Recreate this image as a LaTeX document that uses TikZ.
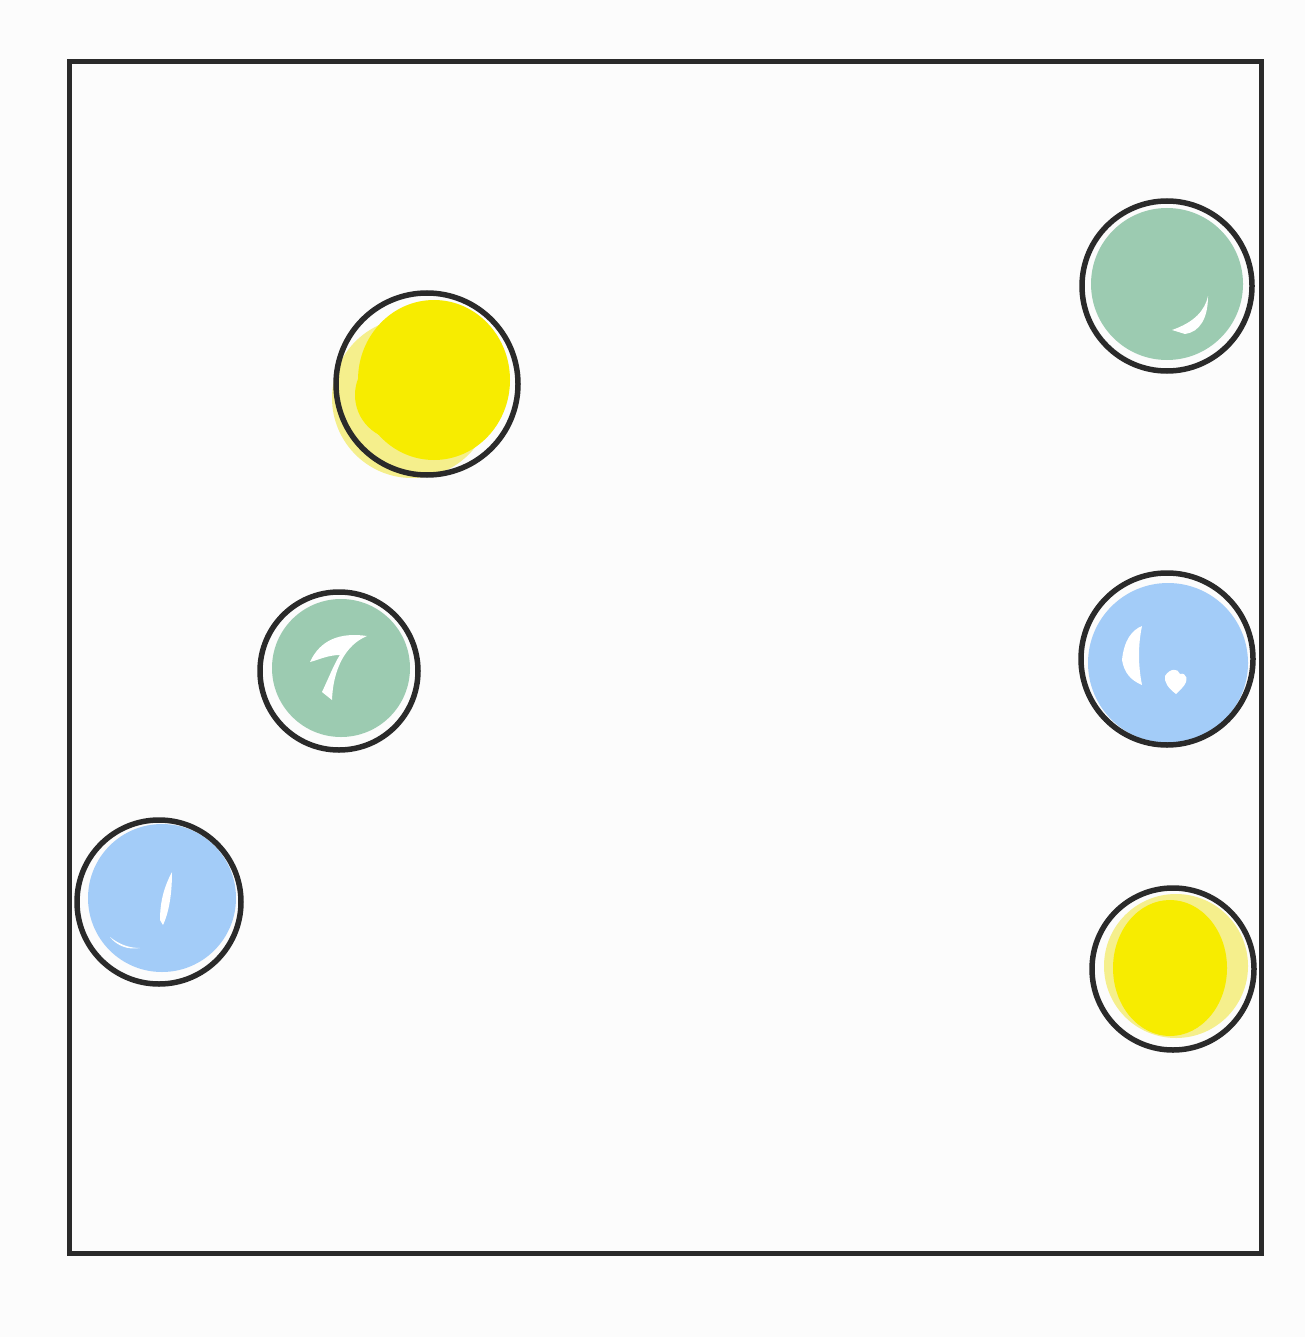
\documentclass[tikz,border=0pt]{standalone}
\definecolor{bgc}{HTML}{FCFCFC}
\definecolor{ink}{HTML}{2A2A2A}
\definecolor{ygold}{HTML}{F7EC00}
\definecolor{ylight}{HTML}{F5EF8C}
\definecolor{gfill}{HTML}{9CCBB1}
\definecolor{bfill}{HTML}{A3CCF8}
\tikzset{
  ring/.style={circle, draw=ink, line width=5.5pt, inner sep=0pt, minimum size=#1},
  frame/.style={draw=ink, line width=5pt},
}
\begin{document}
\begin{tikzpicture}[x=1pt,y=-1pt]
\useasboundingbox (0,0) rectangle (1305,1337);
\fill[bgc] (0,0) rectangle (1305,1337);
\node[frame, rectangle, inner sep=0pt, minimum width=1192pt, minimum height=1191pt] (box) at (665,657.5) {};

% yellow top
\fill[ylight] (412,398) circle (80);
\fill[ygold] (434,380) ellipse (76 and 80);
\fill[ygold] (400,395) circle (45);
% green right top
\fill[gfill] (1167,284) circle (76);
\fill[white] (1172,330) .. controls (1195,322) and (1205,310) .. (1208,296) .. controls (1208,318) and (1200,332) .. (1185,334) -- cycle;
% green left
\fill[gfill] (341,668) circle (69);
\fill[white] (310,662) .. controls (320,640) and (340,632) .. (367,636) .. controls (345,645) and (333,670) .. (332,700) -- (322,692) .. controls (330,675) and (335,662) .. (340,655) .. controls (328,655) and (318,660) .. (310,662) -- cycle;
% blue right
\fill[bfill] (1168,663) circle (80);
\fill[white] (1122,660) .. controls (1124,640) and (1132,630) .. (1142,626) .. controls (1138,645) and (1138,665) .. (1142,685) .. controls (1130,680) and (1124,672) .. (1122,660) -- cycle;
\fill[white] (1165,676) .. controls (1170,668) and (1178,668) .. (1180,674) .. controls (1186,672) and (1190,680) .. (1182,688) -- (1176,694) .. controls (1168,688) and (1164,682) .. (1165,676) -- cycle;
% blue left
\fill[bfill] (162,898) circle (74);
\fill[white] (160,920) .. controls (160,900) and (165,885) .. (172,872) .. controls (172,890) and (170,910) .. (163,925) -- cycle;
\fill[white] (110,937) .. controls (120,945) and (130,948) .. (140,948) .. controls (128,950) and (117,946) .. (110,937) -- cycle;
% yellow right
\fill[ylight] (1176,966) circle (72);
\fill[ygold] (1170,968) ellipse (57 and 68);

\node[ring=182pt] (ytop) at (427,384) {};
\node[ring=170pt] (gtr) at (1167,286) {};
\node[ring=158pt] (gl) at (339,671) {};
\node[ring=172pt] (br) at (1167,659) {};
\node[ring=164pt] (bl) at (159,902) {};
\node[ring=162pt] (yr) at (1173,969) {};
\end{tikzpicture}
\end{document}
